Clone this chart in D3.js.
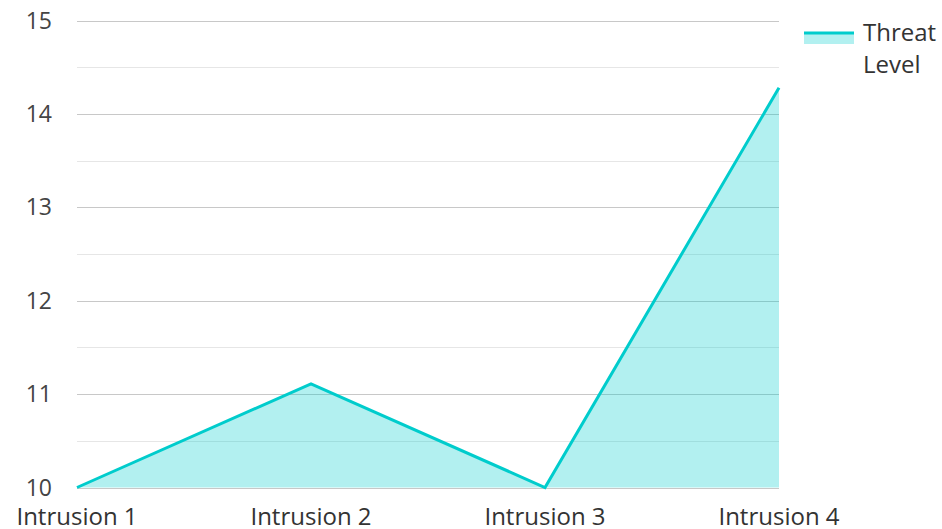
<!DOCTYPE html>
<html>
<head>
<meta charset="utf-8">
<script src="https://cdn.jsdelivr.net/npm/d3@7"></script>
<style>
  body { margin: 0; background: #fff; }
  svg text { font-family: "Open Sans", "Noto Sans", sans-serif; }
</style>
</head>
<body>
<div id="chart"></div>
<script>
// chart data
const categories = ['Intrusion 1', 'Intrusion 2', 'Intrusion 3', 'Intrusion 4'];
const threatLevel = [10, 11.11, 10, 14.28];
const yTicks = [10, 11, 12, 13, 14, 15];
const seriesName = ['Threat', 'Level'];

const width = 942;
const height = 529;
const margin = { top: 20.5, right: 163, bottom: 41.5, left: 77 };

const lineColor = '#00cccc';

const svg = d3.select('#chart')
  .append('svg')
  .attr('width', width)
  .attr('height', height);

const x = d3.scalePoint()
  .domain(categories)
  .range([margin.left, width - margin.right]);

const y = d3.scaleLinear()
  .domain([10, 15])
  .range([height - margin.bottom, margin.top]);

// gridlines: major on whole values, minor on halves
const grid = svg.append('g').attr('class', 'grid');
const minor = d3.range(10.5, 15, 1);

grid.selectAll('line.minor')
  .data(minor)
  .join('line')
  .attr('class', 'minor')
  .attr('x1', margin.left)
  .attr('x2', width - margin.right)
  .attr('y1', (d) => Math.round(y(d)) + 0.5)
  .attr('y2', (d) => Math.round(y(d)) + 0.5)
  .style('stroke', '#e6e6e6')
  .style('stroke-width', 1);

grid.selectAll('line.major')
  .data(yTicks)
  .join('line')
  .attr('class', 'major')
  .attr('x1', margin.left)
  .attr('x2', width - margin.right)
  .attr('y1', (d) => Math.round(y(d)) + 0.5)
  .attr('y2', (d) => Math.round(y(d)) + 0.5)
  .style('stroke', '#c8c8c8')
  .style('stroke-width', 1);

// area + line
const area = d3.area()
  .x((d, i) => x(categories[i]))
  .y0(y(10))
  .y1((d) => y(d));

const line = d3.line()
  .x((d, i) => x(categories[i]))
  .y((d) => y(d));

svg.append('path')
  .datum(threatLevel)
  .attr('d', area)
  .style('fill', lineColor)
  .style('fill-opacity', 0.3);

svg.append('path')
  .datum(threatLevel)
  .attr('d', line)
  .style('fill', 'none')
  .style('stroke', lineColor)
  .style('stroke-width', 3)
  .style('stroke-linejoin', 'miter');

// y axis labels
svg.append('g')
  .selectAll('text')
  .data(yTicks)
  .join('text')
  .attr('x', 52)
  .attr('y', (d) => y(d))
  .attr('dy', '0.35em')
  .attr('text-anchor', 'end')
  .style('font-size', '23px')
  .style('fill', '#444')
  .text((d) => d);

// x axis labels
svg.append('g')
  .selectAll('text')
  .data(categories)
  .join('text')
  .attr('x', (d) => x(d))
  .attr('y', 524.5)
  .attr('text-anchor', 'middle')
  .style('font-size', '24px')
  .style('fill', '#333')
  .text((d) => d);

// legend
const legend = svg.append('g').attr('class', 'legend');
legend.append('rect')
  .attr('x', 804)
  .attr('y', 32)
  .attr('width', 50)
  .attr('height', 12)
  .style('fill', lineColor)
  .style('fill-opacity', 0.3);
legend.append('line')
  .attr('x1', 804)
  .attr('x2', 854)
  .attr('y1', 33)
  .attr('y2', 33)
  .style('stroke', lineColor)
  .style('stroke-width', 3);
legend.append('text')
  .attr('x', 863)
  .attr('y', 41)
  .style('font-size', '24px')
  .style('fill', '#333')
  .selectAll('tspan')
  .data(seriesName)
  .join('tspan')
  .attr('x', 863)
  .attr('dy', (d, i) => (i === 0 ? 0 : 32))
  .text((d) => d);
</script>
</body>
</html>
